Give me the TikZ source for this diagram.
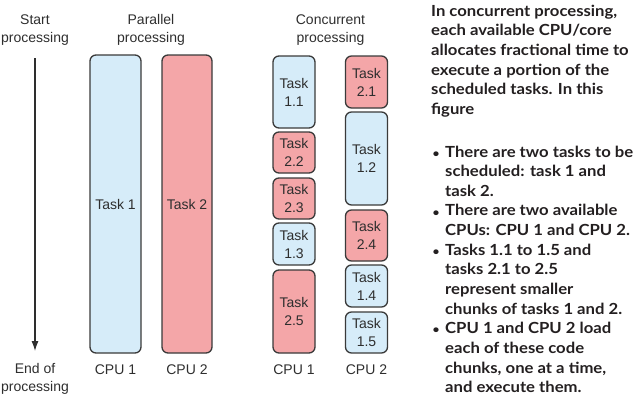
\documentclass[tikz,border=0pt]{standalone}
\usepackage{fontspec}
\setmainfont{Liberation Sans}
\newfontfamily\notefont{Lato}[FakeStretch=1.09]
\usetikzlibrary{arrows.meta}
\definecolor{taskblue}{HTML}{D6ECF9}
\definecolor{taskred}{HTML}{F4A6A8}
\definecolor{edgegray}{HTML}{3A3A3A}
\definecolor{labelgray}{HTML}{2E2E2E}
\definecolor{notecol}{HTML}{231F20}
\begin{document}
\begin{tikzpicture}[x=1pt,y=-1pt,
  lbl/.style={font=\fontsize{14}{18}\selectfont, text=labelgray, align=center, inner sep=0pt, anchor=base},
  task/.style={draw=edgegray, line width=1.3pt, rounded corners=6pt, inner sep=0pt,
    minimum width=42pt, font=\fontsize{14}{18}\selectfont, align=center, text=labelgray},
  tone/.style={task, fill=taskblue},
  ttwo/.style={task, fill=taskred},
  note/.style={font=\notefont\bfseries\fontsize{15.3}{19.65}\selectfont, text=notecol, align=left, inner sep=0pt, anchor=base west},
  dot/.style={font=\notefont\bfseries\fontsize{11}{12}\selectfont, text=notecol, inner sep=0pt, anchor=base}
]
\useasboundingbox (0,0) rectangle (633,397);

% time axis (multi-line nodes: base anchor = last line)
\node[lbl] (start) at (35,42) {Start\\processing};
\node[lbl] (end) at (35,391) {End of\\processing};
\coordinate (a0) at (35,58);
\coordinate (a1) at (35,351);
\draw[line width=1.1pt, draw=labelgray, -{Latex[length=10pt,width=7pt]}] (a0) -- (a1);

% parallel
\node[lbl] (par) at (151,42) {Parallel\\processing};
\node[tone, minimum width=51pt, minimum height=298pt] (p1) at (115.5,204) {Task 1};
\node[ttwo, minimum width=50pt, minimum height=298pt] (p2) at (187,204) {Task 2};
\node[lbl] (pc1) at (115.5,374) {CPU 1};
\node[lbl] (pc2) at (187,374) {CPU 2};

% concurrent
\node[lbl] (con) at (330.5,42) {Concurrent\\processing};
\node[tone, minimum height=72pt] (t11) at (294,92) {Task\\1.1};
\node[ttwo, minimum height=41pt] (t22) at (294,152.5) {Task\\2.2};
\node[ttwo, minimum height=41pt] (t23) at (294,198.5) {Task\\2.3};
\node[tone, minimum height=42pt] (t13) at (294,244) {Task\\1.3};
\node[ttwo, minimum height=83pt] (t25) at (294,311.5) {Task\\2.5};
\node[ttwo, minimum height=52pt] (t21) at (366.5,82) {Task\\2.1};
\node[tone, minimum height=93pt] (t12) at (366.5,158.5) {Task\\1.2};
\node[ttwo, minimum height=51pt] (t24) at (366.5,235.5) {Task\\2.4};
\node[tone, minimum height=42pt] (t14) at (366.5,286) {Task\\1.4};
\node[tone, minimum height=41pt] (t15) at (366.5,332.5) {Task\\1.5};
\node[lbl] (cc1) at (294,374) {CPU 1};
\node[lbl] (cc2) at (366.5,374) {CPU 2};

% notes (anchored at the baseline of their last line)
\node[note] (intro) at (431,114.3) {In concurrent processing,\\each available CPU/core\\allocates fractional time to\\execute a portion of the\\scheduled tasks. In this\\figure};
\node[dot] (d1) at (436,157) {\textbullet};
\node[note] (b1) at (445,196.3) {There are two tasks to be\\scheduled: task 1 and\\task 2.};
\node[dot] (d2) at (436,216) {\textbullet};
\node[note] (b2) at (445,235.6) {There are two available\\CPUs: CPU 1 and CPU 2.};
\node[dot] (d3) at (436,255.3) {\textbullet};
\node[note] (b3) at (445,314.2) {Tasks 1.1 to 1.5 and\\tasks 2.1 to 2.5\\represent smaller\\chunks of tasks 1 and 2.};
\node[dot] (d4) at (436,333.9) {\textbullet};
\node[note] (b4) at (445,392.8) {CPU 1 and CPU 2 load\\each of these code\\chunks, one at a time,\\and execute them.};
\end{tikzpicture}
\end{document}
